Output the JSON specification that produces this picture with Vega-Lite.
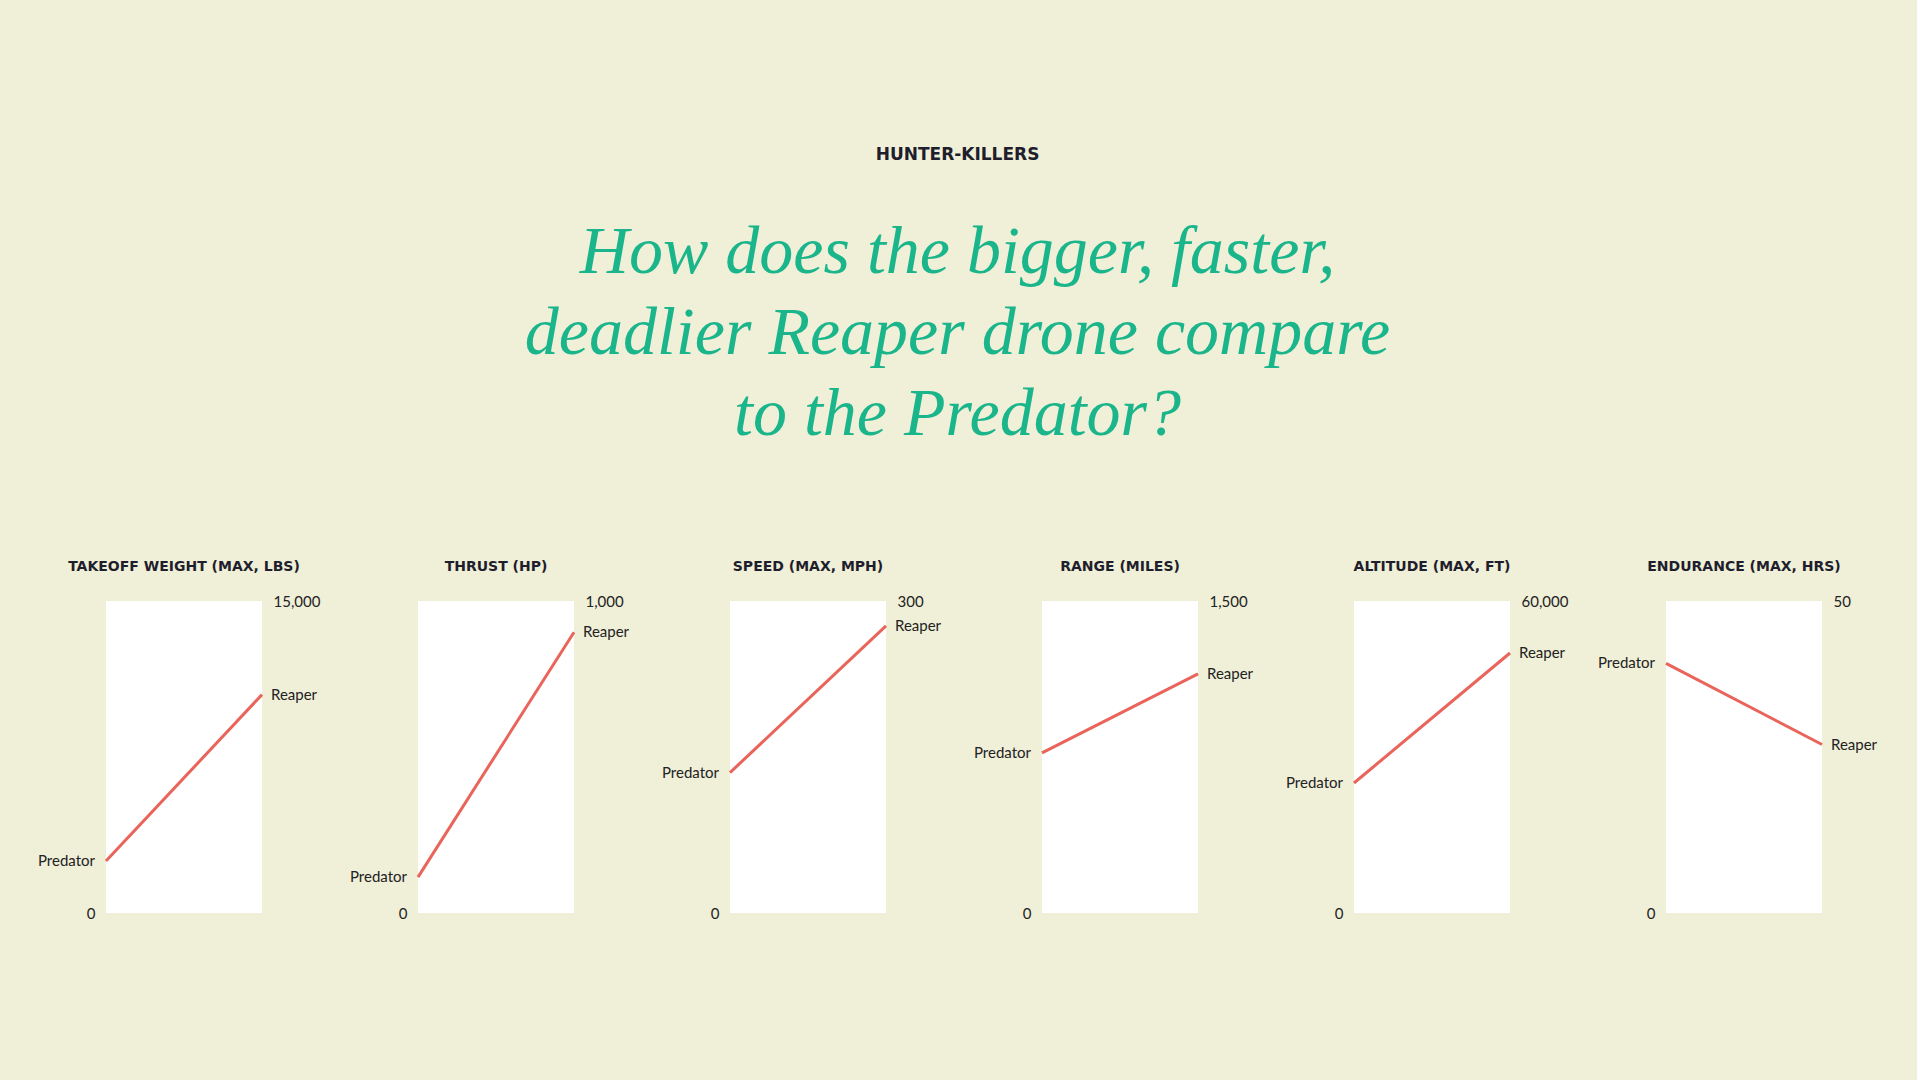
{
  "$schema": "https://vega.github.io/schema/vega-lite/v6.json",
  "background": "#F0EFD8",
  "padding": {"left": 38, "right": 39, "top": 146, "bottom": 160},
  "data": {
    "values": [
      {"metric": "takeoff", "drone": "Predator", "value": 2500},
      {"metric": "takeoff", "drone": "Reaper", "value": 10500},
      {"metric": "thrust", "drone": "Predator", "value": 115},
      {"metric": "thrust", "drone": "Reaper", "value": 900},
      {"metric": "speed", "drone": "Predator", "value": 135},
      {"metric": "speed", "drone": "Reaper", "value": 276},
      {"metric": "range", "drone": "Predator", "value": 770},
      {"metric": "range", "drone": "Reaper", "value": 1150},
      {"metric": "altitude", "drone": "Predator", "value": 25000},
      {"metric": "altitude", "drone": "Reaper", "value": 50000},
      {"metric": "endurance", "drone": "Predator", "value": 40},
      {"metric": "endurance", "drone": "Reaper", "value": 27}
    ]
  },
  "title": {
    "text": "HUNTER-KILLERS",
    "subtitle": ["How does the bigger, faster,", "deadlier Reaper drone compare", "to the Predator?"],
    "anchor": "middle",
    "frame": "bounds",
    "font": "DejaVu Sans",
    "fontSize": 17,
    "fontWeight": "bold",
    "color": "#1E1E2C",
    "subtitleFont": "Liberation Serif",
    "subtitleFontStyle": "italic",
    "subtitleFontSize": 68,
    "subtitleColor": "#1BB58B",
    "subtitleLineHeight": 81,
    "subtitlePadding": 55,
    "offset": 110
  },
  "spacing": 156,
  "bounds": "flush",
  "hconcat": [
    {
      "title": "TAKEOFF WEIGHT (MAX, LBS)",
      "width": 156,
      "height": 312,
      "transform": [{"filter": "datum.metric == 'takeoff'"}],
      "resolve": {"axis": {"y": "independent"}},
      "layer": [
        {
          "mark": {"type": "line", "color": "#E9645A", "strokeWidth": 3},
          "encoding": {
            "x": {"field": "drone", "type": "nominal", "sort": ["Predator", "Reaper"], "scale": {"type": "point", "padding": 0}, "axis": null},
            "y": {"field": "value", "type": "quantitative", "scale": {"domain": [0, 15000], "nice": false}, "axis": {"orient": "left", "values": [0]}}
          }
        },
        {
          "transform": [{"filter": "datum.drone == 'Predator'"}],
          "mark": {"type": "text", "align": "right", "dx": -11},
          "encoding": {
            "x": {"field": "drone", "type": "nominal", "sort": ["Predator", "Reaper"], "scale": {"type": "point", "padding": 0}, "axis": null},
            "y": {"field": "value", "type": "quantitative", "scale": {"domain": [0, 15000], "nice": false}, "axis": null},
            "text": {"field": "drone"}
          }
        },
        {
          "transform": [{"filter": "datum.drone == 'Reaper'"}],
          "mark": {"type": "text", "align": "left", "dx": 9},
          "encoding": {
            "x": {"field": "drone", "type": "nominal", "sort": ["Predator", "Reaper"], "scale": {"type": "point", "padding": 0}, "axis": null},
            "y": {"field": "value", "type": "quantitative", "scale": {"domain": [0, 15000], "nice": false}, "axis": {"orient": "right", "values": [15000], "format": ",.0f"}},
            "text": {"field": "drone"}
          }
        }
      ]
    },
    {
      "title": "THRUST (HP)",
      "width": 156,
      "height": 312,
      "transform": [{"filter": "datum.metric == 'thrust'"}],
      "resolve": {"axis": {"y": "independent"}},
      "layer": [
        {
          "mark": {"type": "line", "color": "#E9645A", "strokeWidth": 3},
          "encoding": {
            "x": {"field": "drone", "type": "nominal", "sort": ["Predator", "Reaper"], "scale": {"type": "point", "padding": 0}, "axis": null},
            "y": {"field": "value", "type": "quantitative", "scale": {"domain": [0, 1000], "nice": false}, "axis": {"orient": "left", "values": [0]}}
          }
        },
        {
          "transform": [{"filter": "datum.drone == 'Predator'"}],
          "mark": {"type": "text", "align": "right", "dx": -11},
          "encoding": {
            "x": {"field": "drone", "type": "nominal", "sort": ["Predator", "Reaper"], "scale": {"type": "point", "padding": 0}, "axis": null},
            "y": {"field": "value", "type": "quantitative", "scale": {"domain": [0, 1000], "nice": false}, "axis": null},
            "text": {"field": "drone"}
          }
        },
        {
          "transform": [{"filter": "datum.drone == 'Reaper'"}],
          "mark": {"type": "text", "align": "left", "dx": 9},
          "encoding": {
            "x": {"field": "drone", "type": "nominal", "sort": ["Predator", "Reaper"], "scale": {"type": "point", "padding": 0}, "axis": null},
            "y": {"field": "value", "type": "quantitative", "scale": {"domain": [0, 1000], "nice": false}, "axis": {"orient": "right", "values": [1000], "format": ",.0f"}},
            "text": {"field": "drone"}
          }
        }
      ]
    },
    {
      "title": "SPEED (MAX, MPH)",
      "width": 156,
      "height": 312,
      "transform": [{"filter": "datum.metric == 'speed'"}],
      "resolve": {"axis": {"y": "independent"}},
      "layer": [
        {
          "mark": {"type": "line", "color": "#E9645A", "strokeWidth": 3},
          "encoding": {
            "x": {"field": "drone", "type": "nominal", "sort": ["Predator", "Reaper"], "scale": {"type": "point", "padding": 0}, "axis": null},
            "y": {"field": "value", "type": "quantitative", "scale": {"domain": [0, 300], "nice": false}, "axis": {"orient": "left", "values": [0]}}
          }
        },
        {
          "transform": [{"filter": "datum.drone == 'Predator'"}],
          "mark": {"type": "text", "align": "right", "dx": -11},
          "encoding": {
            "x": {"field": "drone", "type": "nominal", "sort": ["Predator", "Reaper"], "scale": {"type": "point", "padding": 0}, "axis": null},
            "y": {"field": "value", "type": "quantitative", "scale": {"domain": [0, 300], "nice": false}, "axis": null},
            "text": {"field": "drone"}
          }
        },
        {
          "transform": [{"filter": "datum.drone == 'Reaper'"}],
          "mark": {"type": "text", "align": "left", "dx": 9},
          "encoding": {
            "x": {"field": "drone", "type": "nominal", "sort": ["Predator", "Reaper"], "scale": {"type": "point", "padding": 0}, "axis": null},
            "y": {"field": "value", "type": "quantitative", "scale": {"domain": [0, 300], "nice": false}, "axis": {"orient": "right", "values": [300], "format": ",.0f"}},
            "text": {"field": "drone"}
          }
        }
      ]
    },
    {
      "title": "RANGE (MILES)",
      "width": 156,
      "height": 312,
      "transform": [{"filter": "datum.metric == 'range'"}],
      "resolve": {"axis": {"y": "independent"}},
      "layer": [
        {
          "mark": {"type": "line", "color": "#E9645A", "strokeWidth": 3},
          "encoding": {
            "x": {"field": "drone", "type": "nominal", "sort": ["Predator", "Reaper"], "scale": {"type": "point", "padding": 0}, "axis": null},
            "y": {"field": "value", "type": "quantitative", "scale": {"domain": [0, 1500], "nice": false}, "axis": {"orient": "left", "values": [0]}}
          }
        },
        {
          "transform": [{"filter": "datum.drone == 'Predator'"}],
          "mark": {"type": "text", "align": "right", "dx": -11},
          "encoding": {
            "x": {"field": "drone", "type": "nominal", "sort": ["Predator", "Reaper"], "scale": {"type": "point", "padding": 0}, "axis": null},
            "y": {"field": "value", "type": "quantitative", "scale": {"domain": [0, 1500], "nice": false}, "axis": null},
            "text": {"field": "drone"}
          }
        },
        {
          "transform": [{"filter": "datum.drone == 'Reaper'"}],
          "mark": {"type": "text", "align": "left", "dx": 9},
          "encoding": {
            "x": {"field": "drone", "type": "nominal", "sort": ["Predator", "Reaper"], "scale": {"type": "point", "padding": 0}, "axis": null},
            "y": {"field": "value", "type": "quantitative", "scale": {"domain": [0, 1500], "nice": false}, "axis": {"orient": "right", "values": [1500], "format": ",.0f"}},
            "text": {"field": "drone"}
          }
        }
      ]
    },
    {
      "title": "ALTITUDE (MAX, FT)",
      "width": 156,
      "height": 312,
      "transform": [{"filter": "datum.metric == 'altitude'"}],
      "resolve": {"axis": {"y": "independent"}},
      "layer": [
        {
          "mark": {"type": "line", "color": "#E9645A", "strokeWidth": 3},
          "encoding": {
            "x": {"field": "drone", "type": "nominal", "sort": ["Predator", "Reaper"], "scale": {"type": "point", "padding": 0}, "axis": null},
            "y": {"field": "value", "type": "quantitative", "scale": {"domain": [0, 60000], "nice": false}, "axis": {"orient": "left", "values": [0]}}
          }
        },
        {
          "transform": [{"filter": "datum.drone == 'Predator'"}],
          "mark": {"type": "text", "align": "right", "dx": -11},
          "encoding": {
            "x": {"field": "drone", "type": "nominal", "sort": ["Predator", "Reaper"], "scale": {"type": "point", "padding": 0}, "axis": null},
            "y": {"field": "value", "type": "quantitative", "scale": {"domain": [0, 60000], "nice": false}, "axis": null},
            "text": {"field": "drone"}
          }
        },
        {
          "transform": [{"filter": "datum.drone == 'Reaper'"}],
          "mark": {"type": "text", "align": "left", "dx": 9},
          "encoding": {
            "x": {"field": "drone", "type": "nominal", "sort": ["Predator", "Reaper"], "scale": {"type": "point", "padding": 0}, "axis": null},
            "y": {"field": "value", "type": "quantitative", "scale": {"domain": [0, 60000], "nice": false}, "axis": {"orient": "right", "values": [60000], "format": ",.0f"}},
            "text": {"field": "drone"}
          }
        }
      ]
    },
    {
      "title": "ENDURANCE (MAX, HRS)",
      "width": 156,
      "height": 312,
      "transform": [{"filter": "datum.metric == 'endurance'"}],
      "resolve": {"axis": {"y": "independent"}},
      "layer": [
        {
          "mark": {"type": "line", "color": "#E9645A", "strokeWidth": 3},
          "encoding": {
            "x": {"field": "drone", "type": "nominal", "sort": ["Predator", "Reaper"], "scale": {"type": "point", "padding": 0}, "axis": null},
            "y": {"field": "value", "type": "quantitative", "scale": {"domain": [0, 50], "nice": false}, "axis": {"orient": "left", "values": [0]}}
          }
        },
        {
          "transform": [{"filter": "datum.drone == 'Predator'"}],
          "mark": {"type": "text", "align": "right", "dx": -11},
          "encoding": {
            "x": {"field": "drone", "type": "nominal", "sort": ["Predator", "Reaper"], "scale": {"type": "point", "padding": 0}, "axis": null},
            "y": {"field": "value", "type": "quantitative", "scale": {"domain": [0, 50], "nice": false}, "axis": null},
            "text": {"field": "drone"}
          }
        },
        {
          "transform": [{"filter": "datum.drone == 'Reaper'"}],
          "mark": {"type": "text", "align": "left", "dx": 9},
          "encoding": {
            "x": {"field": "drone", "type": "nominal", "sort": ["Predator", "Reaper"], "scale": {"type": "point", "padding": 0}, "axis": null},
            "y": {"field": "value", "type": "quantitative", "scale": {"domain": [0, 50], "nice": false}, "axis": {"orient": "right", "values": [50], "format": ",.0f"}},
            "text": {"field": "drone"}
          }
        }
      ]
    }
  ],
  "config": {
    "view": {"fill": "white", "stroke": null},
    "axis": {"domain": false, "ticks": false, "grid": false, "labelFont": "Lato", "labelFontSize": 15, "labelColor": "#222222", "labelPadding": 11, "title": null},
    "text": {"font": "Lato", "fontSize": 15, "color": "#222222"},
    "title": {"font": "DejaVu Sans", "fontSize": 14, "fontWeight": "bold", "color": "#1E1E2C", "offset": 20}
  }
}
